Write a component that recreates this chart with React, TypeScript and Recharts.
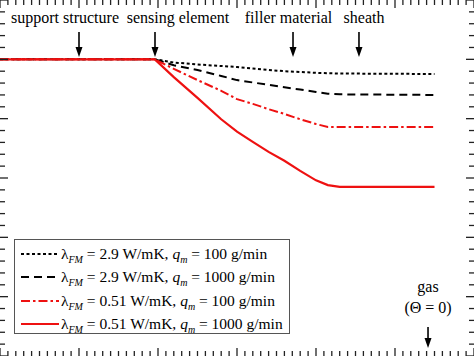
import React from 'react';
import { LineChart, Line, XAxis, YAxis, ReferenceLine, ReferenceDot, Legend } from 'recharts';

// ---- data ----
const xPos = [0, 1.96, 2.2, 2.5, 2.8, 3.0, 3.2, 3.4, 3.6, 3.8, 4.0, 4.15, 4.3, 5.5];
const thetaDotted = [1.0, 1.0, 0.9947, 0.9913, 0.9888, 0.9871, 0.9846, 0.982, 0.98, 0.9787, 0.9773, 0.9766, 0.9761, 0.9753];
const thetaDashed = [1.0, 1.0, 0.99, 0.982, 0.972, 0.965, 0.961, 0.957, 0.953, 0.949, 0.945, 0.942, 0.941, 0.94];
const thetaDashDot = [1.0, 1.0, 0.984, 0.965, 0.947, 0.933, 0.925, 0.916, 0.908, 0.899, 0.891, 0.886, 0.886, 0.886];
const thetaSolid = [1.0, 1.0, 0.97, 0.935, 0.899, 0.878, 0.861, 0.844, 0.829, 0.812, 0.796, 0.788, 0.785, 0.785];

const seriesLambda = ['2.9', '2.9', '0.51', '0.51'];
const seriesQ = ['100', '1000', '100', '1000'];

const xMajor = [0, 1, 2, 3, 4, 5, 6];
const yMajor = [0.5, 0.6, 0.7, 0.8, 0.9, 1.0, 1.1];
const xMinorCount = 60; // 0..6 by 0.1
const yMinorCount = 30; // 0.5..1.1 by 0.02
const xTicks = Array.from({ length: xMinorCount + 1 }, (_, i) => +(i * 0.1).toFixed(2));
const yTicks = Array.from({ length: yMinorCount + 1 }, (_, i) => +(0.5 + i * 0.02).toFixed(3));

// annotations (data coordinates)
const regionLabels = [
  { text: 'support structure', x: 0.823, y: 1.0612 },
  { text: 'sensing element', x: 2.253, y: 1.0612 },
  { text: 'filler material', x: 3.652, y: 1.0612 },
  { text: 'sheath', x: 4.608, y: 1.0612 },
  { text: 'gas', x: 5.418, y: 0.6079 },
  { text: '(\u0398 = 0)', x: 5.418, y: 0.5725 },
];
const arrows = [
  { x: 1.0, y1: 1.0461, y2: 1.0039 },
  { x: 1.962, y1: 1.0461, y2: 1.0039 },
  { x: 3.709, y1: 1.0461, y2: 1.0039 },
  { x: 4.544, y1: 1.0461, y2: 1.0039 },
  { x: 5.418, y1: 0.5489, y2: 0.5135 },
];

const data = xPos.map((x, i) => ({
  x,
  dotted: thetaDotted[i],
  dashed: thetaDashed[i],
  dashdot: thetaDashDot[i],
  solid: thetaSolid[i],
}));

// ---- styles ----
const RED = '#ee1111';
const seriesStyle = [
  { key: 'dotted', color: '#000', dash: '3 2.5', width: 2 },
  { key: 'dashed', color: '#000', dash: '8 5', width: 2 },
  { key: 'dashdot', color: RED, dash: '9 3 2.5 3', width: 2 },
  { key: 'solid', color: RED, dash: undefined as string | undefined, width: 2.2 },
];
const FONT = '"Liberation Serif", "Times New Roman", serif';
const TINY = 0.001;

const makeTick = (side: 'top' | 'bottom' | 'left' | 'right', majors: number[]) => (props: any) => {
  const { x, y, payload } = props;
  const v = payload.value;
  const isMajor = majors.some((m) => Math.abs(m - v) < 1e-6);
  const len = isMajor ? 8 : 5;
  let x2 = x;
  let y2 = y;
  if (side === 'top') y2 = y + len;
  else if (side === 'bottom') y2 = y - len;
  else if (side === 'left') x2 = x + len;
  else x2 = x - len;
  return <line x1={x} y1={y} x2={x2} y2={y2} stroke="#222" strokeWidth={1.3} />;
};

const ArrowShape = (props: any) => {
  const { x1, y1, x2, y2 } = props;
  return (
    <g>
      <line x1={x1} y1={y1} x2={x2} y2={y2 - 6} stroke="#000" strokeWidth={1.6} />
      <polygon points={`${x2 - 3.5},${y2 - 10} ${x2 + 3.5},${y2 - 10} ${x2},${y2}`} fill="#000" />
    </g>
  );
};

const makeTextShape = (text: string) => (props: any) => {
  const { cx, cy } = props;
  return (
    <text
      x={cx}
      y={cy}
      textAnchor="middle"
      style={{ fontFamily: FONT, fontSize: 16, fill: '#000' }}
    >
      {text}
    </text>
  );
};

const subStyle: React.CSSProperties = { fontSize: 10, fontStyle: 'italic', verticalAlign: -4, lineHeight: 0 };

const LegendContent = () => (
  <div
    style={{
      border: '1px solid #555',
      background: '#fff',
      width: 274,
      height: 91,
      boxSizing: 'content-box',
      fontFamily: FONT,
      fontSize: 15.5,
      color: '#000',
      paddingTop: 2,
    }}
  >
    {seriesStyle.map((s, i) => (
      <div key={s.key} style={{ height: 23.5, display: 'flex', alignItems: 'center', whiteSpace: 'nowrap' }}>
        <svg width={40} height={10} style={{ marginLeft: 5, flex: 'none' }}>
          <line x1={1} y1={5} x2={39} y2={5} stroke={s.color} strokeWidth={s.width} strokeDasharray={s.dash} />
        </svg>
        <span style={{ marginLeft: 1 }}>
          {'\u03bb'}
          <sub style={subStyle}>FM</sub>
          {` = ${seriesLambda[i]} W/mK, `}
          <i>q</i>
          <sub style={subStyle}>m</sub>
          {` = ${seriesQ[i]} g/min`}
        </span>
      </div>
    ))}
  </div>
);

const axisCommon = {
  mirror: true,
  axisLine: false,
  tickLine: false,
  tickSize: 0,
  tickMargin: 0,
  interval: 0 as const,
  allowDataOverflow: true,
};

export default function App() {
  return (
    <div style={{ position: 'absolute', left: 0, top: 0, width: 474, height: 356, background: '#fff' }}>
      <LineChart width={474} height={356} data={data} margin={{ top: 0, right: 0, bottom: 0, left: 0 }}>
        <XAxis
          {...axisCommon}
          xAxisId="b"
          dataKey="x"
          type="number"
          domain={[0, 6]}
          ticks={xTicks}
          orientation="bottom"
          height={TINY}
          tick={makeTick('bottom', xMajor)}
        />
        <XAxis
          {...axisCommon}
          xAxisId="t"
          dataKey="x"
          type="number"
          domain={[0, 6]}
          ticks={xTicks}
          orientation="top"
          height={TINY}
          tick={makeTick('top', xMajor)}
        />
        <YAxis
          {...axisCommon}
          yAxisId="l"
          type="number"
          domain={[0.5, 1.1]}
          ticks={yTicks}
          orientation="left"
          width={TINY}
          tick={makeTick('left', yMajor)}
        />
        <YAxis
          {...axisCommon}
          yAxisId="r"
          type="number"
          domain={[0.5, 1.1]}
          ticks={yTicks}
          orientation="right"
          width={TINY}
          tick={makeTick('right', yMajor)}
        />
        {seriesStyle.map((s) => (
          <Line
            key={s.key}
            xAxisId="b"
            yAxisId="l"
            type="linear"
            dataKey={s.key}
            stroke={s.color}
            strokeWidth={s.width}
            strokeDasharray={s.dash}
            dot={false}
            activeDot={false}
            isAnimationActive={false}
          />
        ))}
        {arrows.map((a, i) => (
          <ReferenceLine
            key={`a${i}`}
            xAxisId="b"
            yAxisId="l"
            segment={[
              { x: a.x, y: a.y1 },
              { x: a.x, y: a.y2 },
            ]}
            ifOverflow="visible"
            shape={ArrowShape}
          />
        ))}
        {regionLabels.map((t, i) => (
          <ReferenceDot
            key={`t${i}`}
            xAxisId="b"
            yAxisId="l"
            x={t.x}
            y={t.y}
            r={0}
            ifOverflow="visible"
            shape={makeTextShape(t.text)}
          />
        ))}
        <Legend
          layout="horizontal"
          verticalAlign="middle"
          align="center"
          wrapperStyle={{ left: 14, top: 239, width: 276, height: 93 }}
          content={LegendContent}
        />
      </LineChart>
    </div>
  );
}
